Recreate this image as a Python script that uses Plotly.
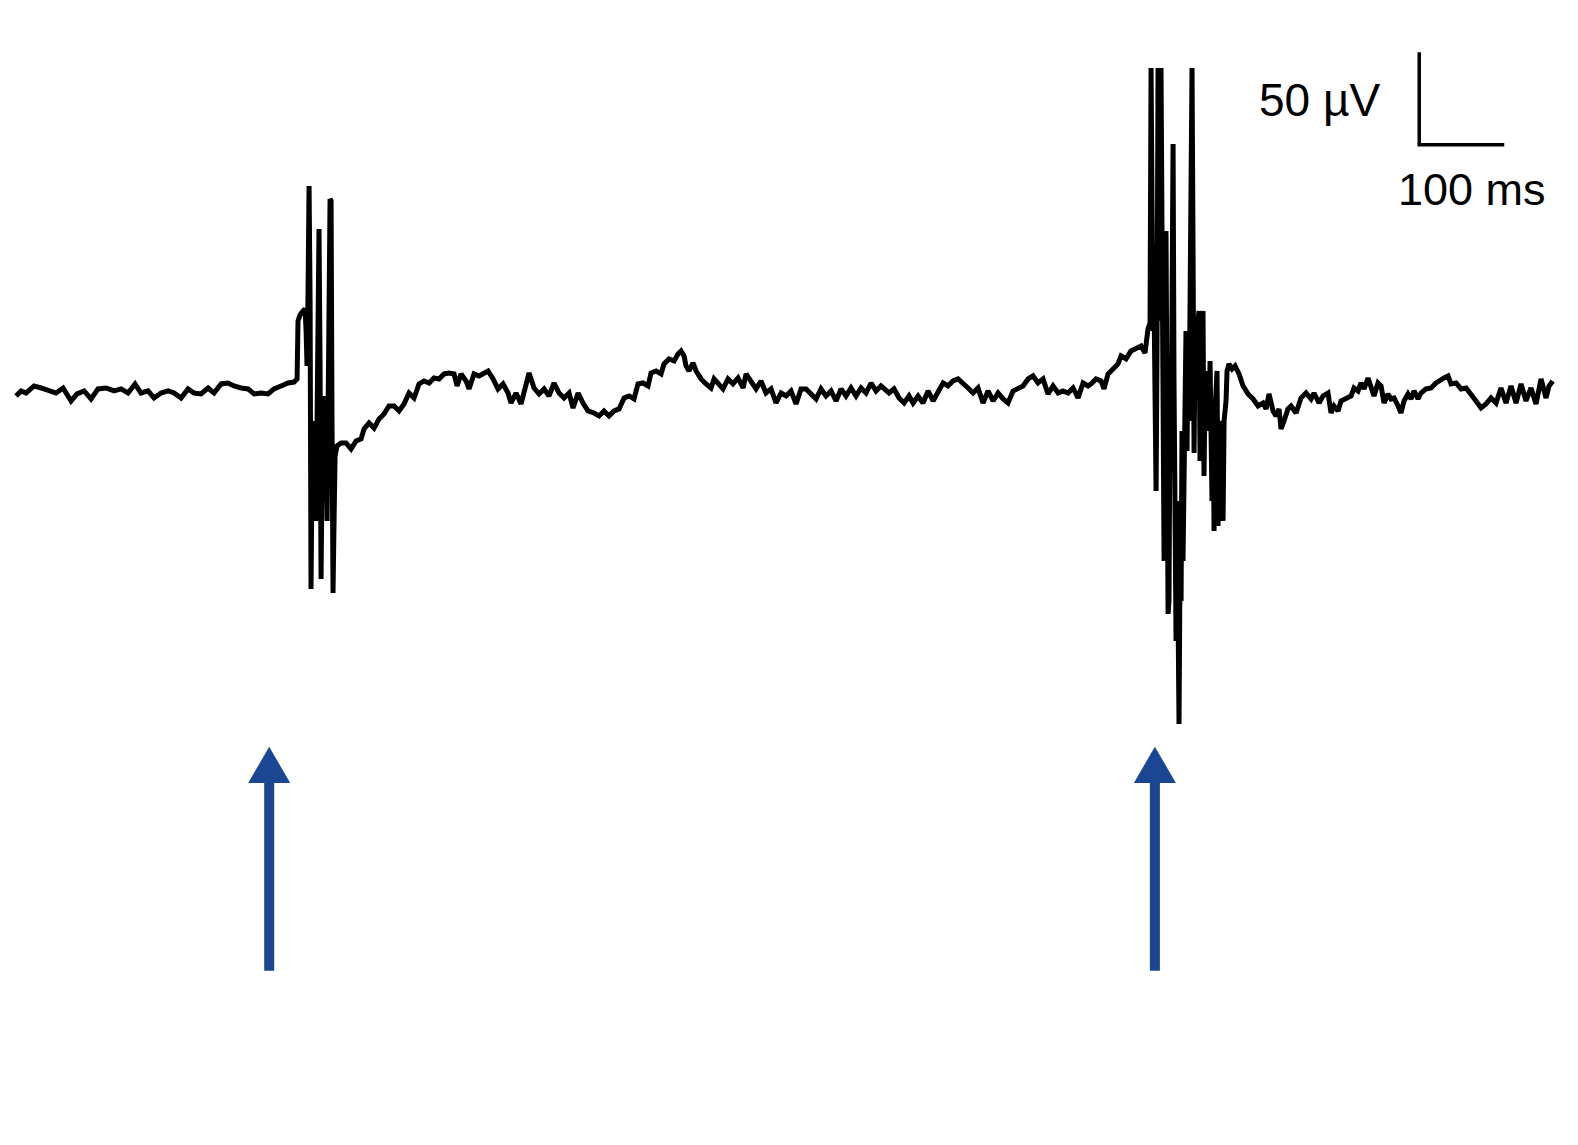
import plotly.graph_objects as go

# extracellular trace: time in ms, potential in uV
pre_t = [1.2, 7.1, 12.9, 22.4, 30.6, 38.8, 48.2, 56.5, 65.9, 72.9, 81.2, 89.4, 97.6, 107.1,
         116.5, 124.7, 132.9, 141.2, 148.2, 156.5, 163.5, 171.8, 180.0, 187.1, 195.3, 203.5,
         210.6, 218.8, 227.1, 234.1, 242.4, 250.6, 257.6, 265.9, 274.1, 281.2, 289.4, 297.6,
         304.7, 312.9, 321.2, 328.2]
pre_uv = [-1.6, 1.1, 0.0, 3.8, 2.7, 1.1, 0.0, 2.7, -4.3, -0.5, 1.1, -3.2, 2.2, 2.7,
          1.1, 2.2, 0.0, 4.9, 0.0, 1.1, -2.7, 0.0, 1.1, 0.0, -2.7, 2.2,
          0.0, -0.5, 2.7, 0.0, 4.9, 5.4, 3.8, 2.7, 2.2, -0.5, 0.0, -0.5,
          2.2, 3.8, 5.4, 5.9]

burst1_t = [331.8, 332.9, 335.3, 338.8, 341.2, 342.4, 343.5, 344.7, 345.9, 347.1, 348.2, 349.4,
            350.6, 351.8, 352.9, 354.1, 355.3, 356.5, 357.6, 358.8, 360.0, 361.2, 362.4, 363.5,
            364.7, 365.9, 367.1, 368.2, 369.4, 370.6, 371.8, 372.9, 374.1, 375.3, 376.5, 378.8]
burst1_uv = [7.6, 38.9, 42.1, 44.3, 45.4, 33.5, 14.6, 55.1, 111.8, 49.7, -105.8, -42.1,
             -15.1, -58.3, -25.9, -69.1, -4.3, 49.7, 88.6, 17.3, -100.4, -42.1, -1.6, -58.3,
             -36.7, -20.5, -69.1, -15.1, 49.7, 104.8, 103.7, -15.1, -108.0, -69.1, -34.0, -28.6]

mid_t = [383.5, 389.4, 395.3, 401.2, 407.1, 410.6, 416.5, 422.4, 428.2, 434.1, 440.0, 445.9,
         451.8, 457.6, 463.5, 469.4, 475.3, 481.2, 487.1, 492.9, 498.8, 504.7, 510.6, 516.5,
         520.0, 524.7, 530.6, 534.1, 540.0, 545.9, 551.8, 556.5, 562.4, 568.2, 574.1, 580.0,
         583.5, 589.4, 595.3, 598.8, 604.7, 610.6, 616.5, 622.4, 628.2, 634.1, 640.0, 645.9,
         651.8, 656.5, 662.4, 668.2, 674.1, 681.2, 687.1, 692.9, 698.8, 704.7,
         710.6, 716.5, 722.4, 728.2, 732.9, 738.8, 744.7, 748.2, 754.1, 760.0, 763.5, 769.4,
         775.3, 780.0, 783.5, 787.1, 789.4, 792.9, 797.6, 801.2, 807.1, 812.9, 818.8, 822.4,
         828.2, 832.9, 838.8, 844.7, 850.6, 856.5, 860.0, 865.9, 871.8, 877.6, 883.5, 889.4,
         895.3, 901.2, 907.1, 912.9, 918.8, 924.7, 930.6, 936.5, 942.4, 948.2, 954.1, 960.0,
         965.9, 971.8, 977.6, 983.5, 989.4, 995.3, 1001.2, 1007.1, 1012.9, 1018.8,
         1028.2, 1034.1, 1040.0, 1045.9, 1051.8, 1056.5, 1062.4, 1068.2, 1074.1, 1080.0,
         1085.9, 1091.8, 1097.6, 1103.5, 1109.4, 1115.3, 1121.2, 1127.1, 1132.9, 1138.8,
         1144.7, 1150.6, 1156.5, 1162.4, 1168.2, 1174.1, 1180.0, 1185.9, 1191.8, 1197.6,
         1203.5, 1209.4, 1215.3, 1221.2, 1227.1, 1232.9, 1238.8, 1244.7, 1250.6, 1256.5,
         1262.4, 1265.9, 1271.8, 1277.6, 1281.2, 1285.9, 1291.8, 1297.6, 1301.2, 1307.1,
         1312.9, 1318.8, 1324.7, 1329.4, 1332.9, 1335.3]
mid_uv = [-27.0, -27.0, -30.2, -25.9, -24.8, -19.4, -16.2, -18.9, -14.0, -11.3, -7.0, -7.0,
          -9.7, -5.9, 0.0, -2.7, 4.9, 6.5, 5.4, 8.1, 7.6, 10.3, 10.8, 10.3,
          3.8, 10.3, 6.5, 2.2, 10.3, 9.2, 10.8, 11.9, 7.6, 2.2, 4.9, 0.0,
          -5.4, 0.0, -5.9, 1.1, 10.8, 2.7, -0.5, 2.2, -1.6, 5.4, 0.0, -2.7,
          0.0, -8.1, 0.0, -5.4, -9.7, -10.8, -12.4, -9.7, -12.4, -9.7,
          -8.6, -2.7, -1.6, -3.2, 4.9, 5.4, 3.8, 10.8, 11.9, 10.3, 15.7, 18.4,
          17.3, 21.1, 22.7, 20.0, 14.6, 11.9, 16.2, 11.9, 7.6, 4.9, 2.7, 7.6,
          4.9, 2.2, 7.6, 4.9, 8.1, 2.7, 10.3, 6.5, 2.2, 6.5, 0.0, 2.2,
          -5.4, 0.0, -1.6, 1.1, -5.9, 2.2, 2.2, -0.5, -3.2, 2.2, -1.6, 1.1,
          -4.3, 2.2, -1.6, 2.7, -1.6, 2.7, 0.0, 5.4, 1.1, 3.8,
          0.0, 2.2, -2.7, -5.4, -1.6, -5.4, -1.6, -5.4, 1.1, -4.3,
          1.1, 5.4, 3.8, 6.5, 7.6, 5.4, 2.7, 0.0, 2.7, -5.4,
          1.1, -4.3, 0.0, -3.2, -5.4, 1.1, 2.7, 3.8, 7.6, 9.2,
          5.4, 7.6, -0.5, 3.8, 0.0, 1.1, 0.0, 2.7, -2.7, 5.4,
          3.8, 4.9, 7.6, 6.5, 2.2, 10.3, 13.0, 15.7, 20.0, 18.4,
          22.7, 23.8, 25.4, 21.6, 34.6, 37.8]

burst2_t = [1336.5, 1337.6, 1338.8, 1340.0, 1341.2, 1342.4, 1343.5, 1344.7, 1345.9, 1347.1,
            1348.2, 1349.4, 1350.6, 1351.8, 1352.9, 1354.1, 1355.3, 1356.5, 1357.6, 1358.8,
            1360.0, 1361.2, 1362.4, 1363.5, 1364.7, 1365.9, 1367.1, 1368.2, 1369.4, 1370.6,
            1371.8, 1372.9, 1374.1, 1375.3, 1377.6, 1378.8, 1380.0, 1381.2, 1383.5, 1384.7,
            1385.9, 1387.1, 1388.2, 1389.4, 1391.8, 1392.9, 1394.1, 1395.3, 1397.6, 1398.8,
            1400.0, 1402.4, 1404.7, 1405.9, 1408.2, 1409.4, 1410.6, 1411.8, 1414.1, 1415.3,
            1416.5, 1418.8, 1421.2, 1422.4, 1424.7, 1425.9, 1428.2, 1431.8, 1435.3, 1440.0]
burst2_uv = [175.5, 103.7, 33.5, 49.7, -15.1, -52.9, 22.7, 175.5, 130.7, 38.9,
             175.5, 60.5, -15.1, -90.7, 6.5, 87.5, -15.1, -119.3, -112.3, -4.3,
             -42.1, 49.7, 134.5, 6.5, -90.7, -133.9, -58.3, -123.1, -178.7, -90.7,
             -112.3, -20.5, -90.7, -47.5, 33.5, -31.3, 28.1, -15.1, 76.7, 175.5,
             76.7, -32.4, 22.7, -4.3, 38.9, 44.3, -36.7, 17.3, 44.3, -44.8,
             1.1, 11.9, -20.5, 17.3, -58.3, -4.3, -74.5, -9.7, 11.9, -71.8,
             -15.1, -42.1, -69.1, -15.1, -4.3, 11.9, 15.7, 13.0, 14.6, 10.3]

post_t = [1444.7, 1450.6, 1456.5, 1462.4, 1468.2, 1471.8, 1475.3, 1480.0, 1483.5, 1487.1,
          1489.4, 1492.9, 1497.6, 1501.2, 1507.1, 1512.9, 1518.8, 1524.7, 1528.2, 1534.1,
          1538.8, 1544.7, 1548.2, 1551.8, 1556.5, 1560.0, 1565.9, 1571.8, 1575.3, 1580.0,
          1583.5, 1587.1, 1591.8, 1595.3, 1598.8, 1603.5, 1607.1, 1610.6, 1615.3, 1618.8,
          1622.4, 1627.1, 1630.6, 1634.1, 1638.8, 1642.4, 1645.9, 1650.6, 1654.1, 1660.0,
          1665.9, 1671.8, 1677.6, 1681.2, 1685.9, 1689.4, 1695.3, 1701.2, 1707.1, 1712.9,
          1718.8, 1724.7, 1730.6, 1736.5, 1742.4, 1748.2, 1754.1, 1760.0, 1765.9, 1771.8,
          1777.6, 1783.5, 1789.4, 1795.3, 1801.2, 1804.7, 1809.0]
post_uv = [3.8, -0.5, -3.2, -7.0, -5.4, -8.6, -0.5, -9.7, -12.4, -8.6,
           -19.4, -15.1, -8.6, -7.0, -10.8, -2.7, 0.0, -3.2, 0.0, -5.4,
           -1.6, 0.0, -10.8, -7.0, -9.7, -4.3, -3.2, -1.6, 2.7, 1.1,
           5.4, 2.2, 8.1, 2.7, -1.6, 5.4, 3.8, -5.4, -0.5, -3.2,
           -2.7, -7.0, -10.8, -4.3, -0.5, -3.2, 1.1, -3.2, 0.0, 2.2,
           2.7, 5.4, 7.6, 8.1, 9.2, 4.9, 5.4, 2.2, 2.7, -0.5,
           -4.3, -8.1, -5.9, -2.7, -5.4, 2.7, -5.4, 3.8, -5.4, 4.9,
           -4.3, 2.7, -5.9, 7.6, -2.7, 3.8, 6.5]

# stimulus onsets (blue arrows), ms
stim_t = [299, 1341]

# scale bar
scale_ms = 100
scale_uv = 50
scale_labels = ["50 µV", "100 ms"]

time_ms = pre_t + burst1_t + mid_t + burst2_t + post_t
trace_uv = pre_uv + burst1_uv + mid_uv + burst2_uv + post_uv

ARROW_COLOR = "#1a4694"
bar_t0, bar_v0 = 1652, 134

fig = go.Figure()
fig.add_trace(go.Scatter(x=time_ms, y=trace_uv, mode="lines",
                         line=dict(color="black", width=5), hoverinfo="skip"))
fig.add_trace(go.Scatter(x=[bar_t0, bar_t0, bar_t0 + scale_ms],
                         y=[bar_v0 + scale_uv, bar_v0, bar_v0],
                         mode="lines", line=dict(color="black", width=3.5), hoverinfo="skip"))

shapes = []
for t in stim_t:
    # shaft
    shapes.append(dict(type="rect", xref="x", yref="y", x0=t - 5.9, x1=t + 5.9, y0=-312, y1=-209,
                       fillcolor=ARROW_COLOR, line=dict(width=0)))
    # head
    shapes.append(dict(type="path", xref="x", yref="y",
                       path=f"M {t - 24.7},-210.6 L {t + 24.7},-210.6 L {t},-191 Z",
                       fillcolor=ARROW_COLOR, line=dict(width=0)))

annotations = [
    dict(x=bar_t0 - 44, y=bar_v0 + 24, xref="x", yref="y", text=scale_labels[0], showarrow=False,
         xanchor="right", yanchor="middle", font=dict(size=46, color="black", family="Liberation Sans")),
    dict(x=bar_t0 + 62, y=bar_v0 - 24, xref="x", yref="y", text=scale_labels[1], showarrow=False,
         xanchor="center", yanchor="middle", font=dict(size=45, color="black", family="Liberation Sans")),
]

fig.update_layout(
    width=1578, height=1145,
    margin=dict(l=0, r=0, t=0, b=0),
    paper_bgcolor="white", plot_bgcolor="white",
    showlegend=False,
    shapes=shapes, annotations=annotations,
    xaxis=dict(range=[-8.3, 1848.2], visible=False, fixedrange=True),
    yaxis=dict(range=[-410.4, 207.9], visible=False, fixedrange=True),
)

fig.write_html("out.html")
